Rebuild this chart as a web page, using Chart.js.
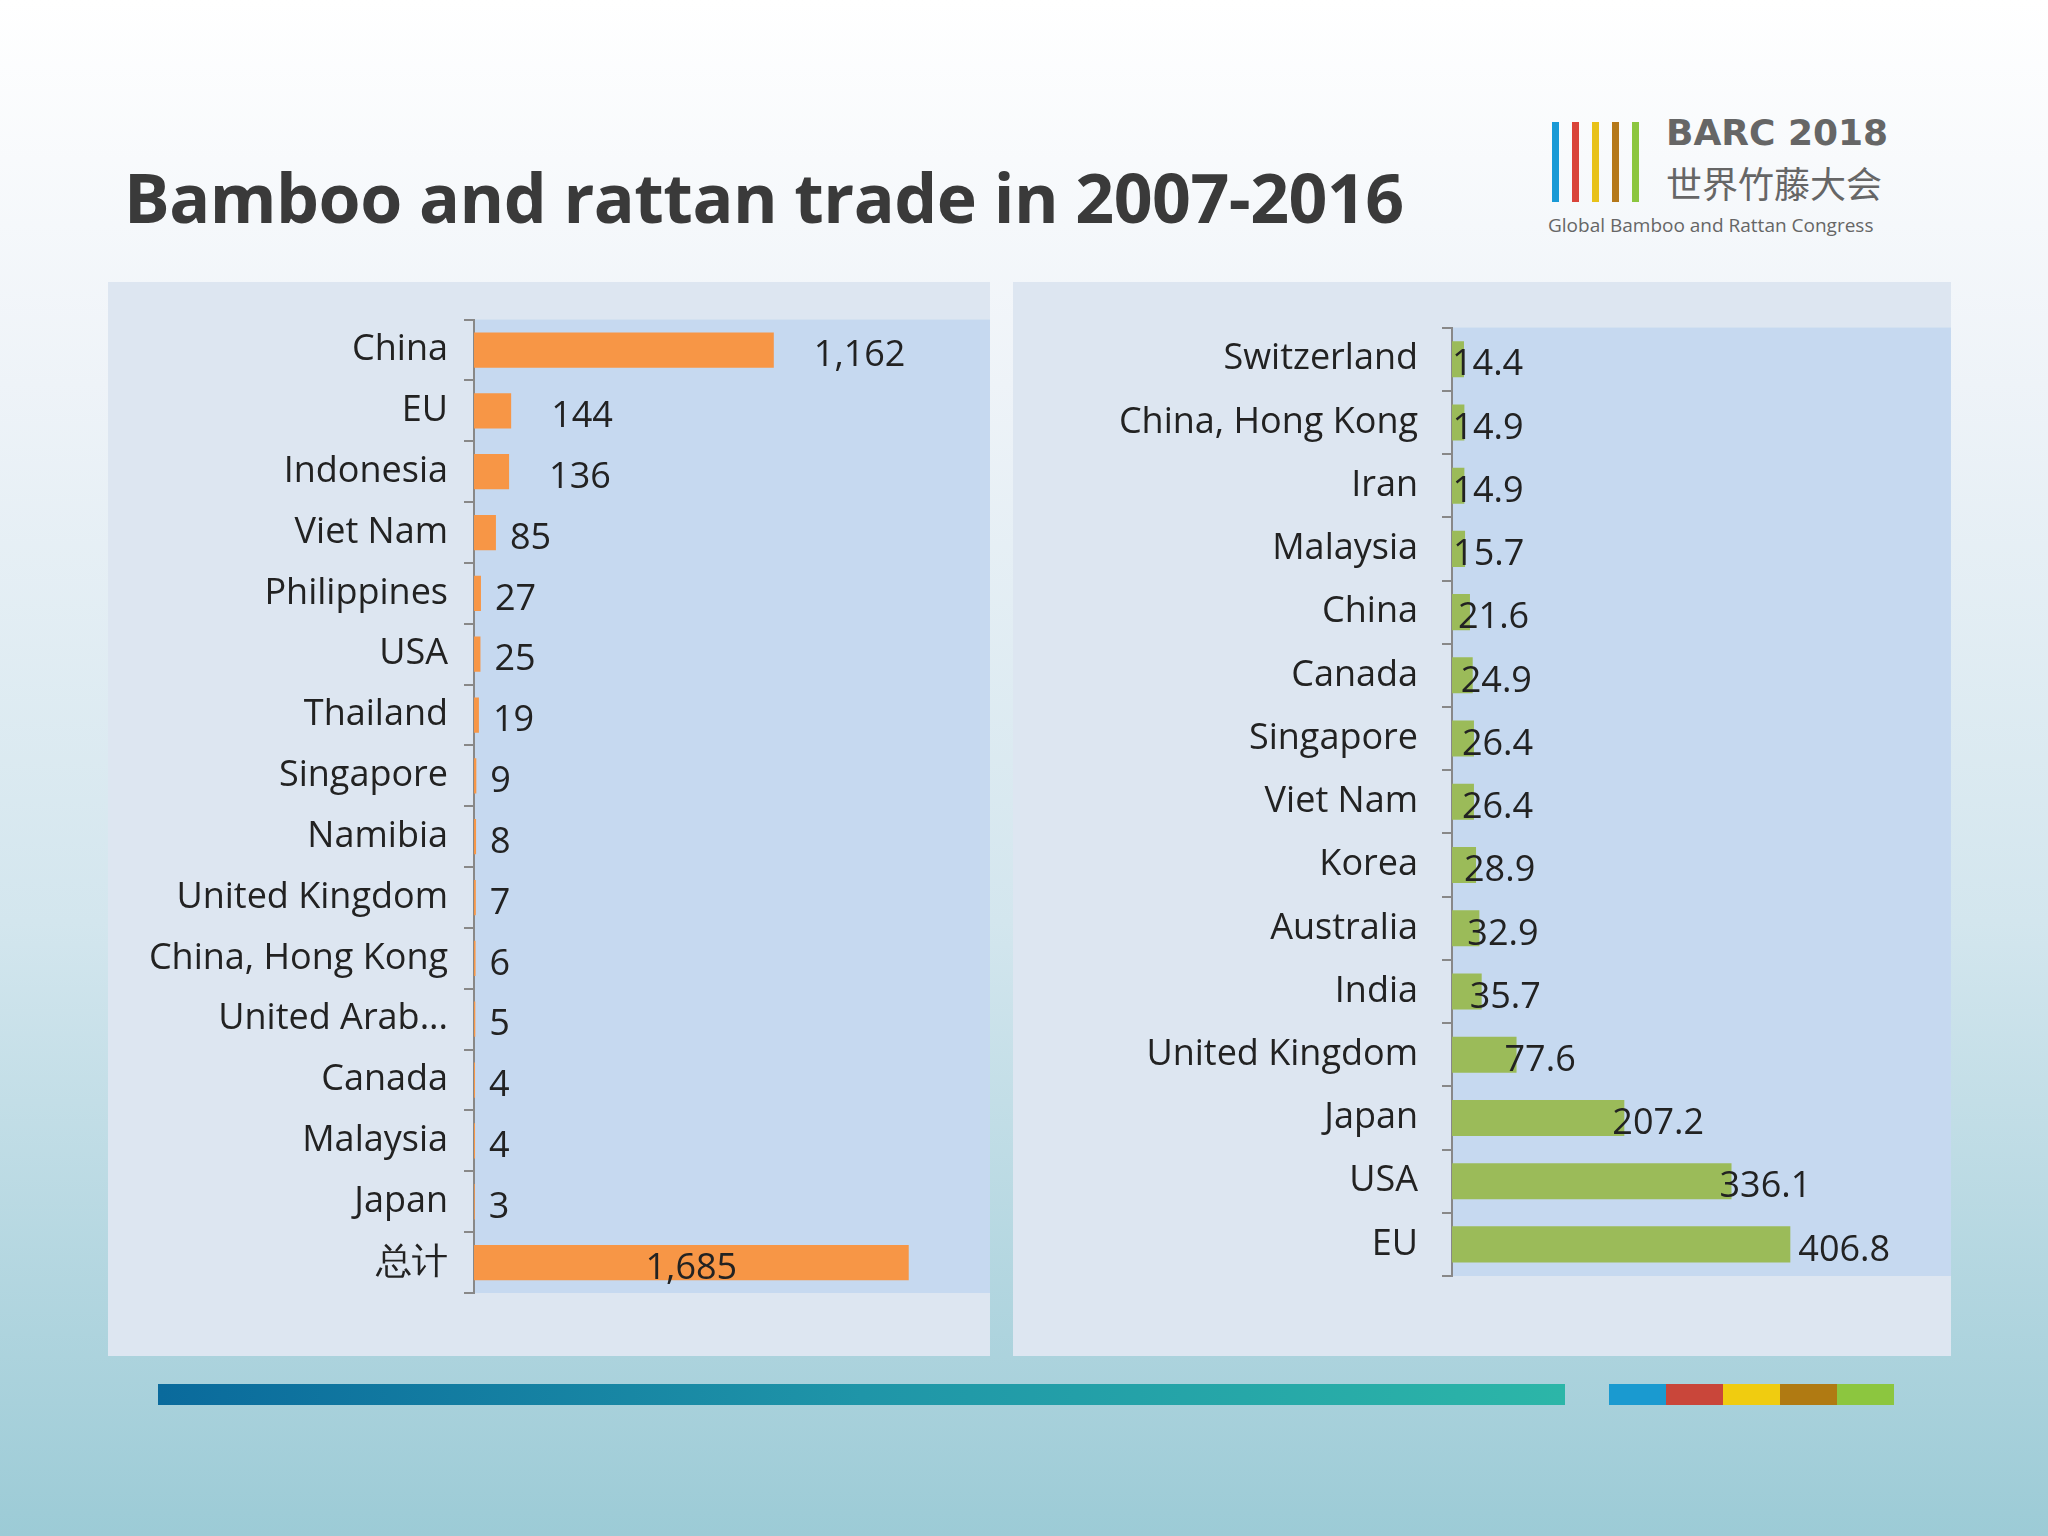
<!DOCTYPE html>
<html><head><meta charset="utf-8">
<script src="https://cdn.jsdelivr.net/npm/chart.js@4/dist/chart.umd.min.js"></script>
<style>
body{margin:0;width:2048px;height:1536px;overflow:hidden;background:linear-gradient(#ffffff 0%,#eef3f8 25%,#d3e6ee 60%,#9ccbd6 100%);font-family:"Open Sans",sans-serif;position:relative}
#title{position:absolute;left:124px;top:150px;font-size:68px;font-weight:700;color:#3a3a3a;letter-spacing:-0.5px}
.panel{position:absolute;background:#dde6f1}
#logo{position:absolute;left:1530px;top:112px;width:370px;height:130px}
.lb{position:absolute;top:10px;width:7px;height:80px}
#bar1{position:absolute;left:158px;top:1384px;width:1407px;height:21px;background:linear-gradient(90deg,#0a6a9c,#1f95a8 50%,#2cb6a8)}
.blk{position:absolute;top:1384px;width:57px;height:21px}
</style></head><body>
<div id="title">Bamboo and rattan trade in 2007-2016</div>
<div id="logo">
 <div class="lb" style="left:22px;background:#1a9ad6"></div>
 <div class="lb" style="left:42px;background:#d9443a"></div>
 <div class="lb" style="left:62px;background:#e8c21a"></div>
 <div class="lb" style="left:82px;background:#b5781a"></div>
 <div class="lb" style="left:102px;background:#8cc63f"></div>
 <div style="position:absolute;left:136px;top:0;font-size:36px;font-weight:800;color:#666;font-family:'DejaVu Sans'">BARC 2018</div>
 <div style="position:absolute;left:136px;top:44px;font-size:36px;color:#666;font-family:'Noto Sans CJK SC'">世界竹藤大会</div>
 <div style="position:absolute;left:18px;top:100px;font-size:19px;color:#666;font-family:'Open Sans'">Global Bamboo and Rattan Congress</div>
</div>
<div class="panel" style="left:108px;top:282px;width:882px;height:1074px"><canvas id="c1"></canvas></div>
<div class="panel" style="left:1013px;top:282px;width:938px;height:1074px"><canvas id="c2"></canvas></div>
<div id="bar1"></div>
<div class="blk" style="left:1609px;background:#1a9ad0"></div>
<div class="blk" style="left:1666px;background:#c9463a"></div>
<div class="blk" style="left:1723px;background:#f0cc10"></div>
<div class="blk" style="left:1780px;background:#b07a12"></div>
<div class="blk" style="left:1837px;background:#8cc63f"></div>
<script>
const leftCategories=["China","EU","Indonesia","Viet Nam","Philippines","USA","Thailand","Singapore","Namibia","United Kingdom","China, Hong Kong","United Arab...","Canada","Malaysia","Japan","总计"];
const leftValues=[1162,144,136,85,27,25,19,9,8,7,6,5,4,4,3,1685];
const leftLabels=["1,162","144","136","85","27","25","19","9","8","7","6","5","4","4","3","1,685"];
const rightCategories=["Switzerland","China, Hong Kong","Iran","Malaysia","China","Canada","Singapore","Viet Nam","Korea","Australia","India","United Kingdom","Japan","USA","EU"];
const rightValues=[14.4,14.9,14.9,15.7,21.6,24.9,26.4,26.4,28.9,32.9,35.7,77.6,207.2,336.1,406.8];

const bgPlugin={id:'bg',beforeDraw(c){const a=c.chartArea,x=c.ctx;x.save();x.fillStyle='#c6d9f0';x.fillRect(a.left,a.top,a.right-a.left,a.bottom-a.top);x.restore();}};
function lblPlugin(labels,mode){return{id:'lbl',afterDatasetsDraw(c){const x=c.ctx,m=c.getDatasetMeta(0);x.save();x.font='36px "Open Sans"';x.fillStyle='#222';x.textBaseline='middle';
m.data.forEach((b,i)=>{let tx,ty=b.y+6;
 if(mode==='L'){ if(i===labels.length-1){x.textAlign='center';tx=(b.base+b.x)/2;} else {x.textAlign='left';tx=b.x+(c.data.datasets[0].data[i]>100?40:14);} }
 else {x.textAlign='left';tx=b.x-12; if(i===labels.length-1)tx=b.x+8;}
 x.fillText(labels[i],tx,ty);});x.restore();}};}
function make(id,cats,vals,labels,color,max,yw,pt,pb,mode,bp,pad){
 new Chart(document.getElementById(id),{type:'bar',data:{labels:cats,datasets:[{data:vals,backgroundColor:color,barPercentage:bp,categoryPercentage:1}]},
 options:{indexAxis:'y',responsive:true,maintainAspectRatio:false,animation:false,layout:{padding:{top:pt,bottom:pb,right:0,left:0}},
 plugins:{legend:{display:false},tooltip:{enabled:false}},
 scales:{x:{display:false,min:0,max:max},
 y:{afterFit(s){s.width=yw;},border:{display:true,color:'#888',width:2},grid:{display:true,drawOnChartArea:false,offset:true,tickLength:10,color:'#888',lineWidth:2},
 ticks:{color:'#222',font:{size:36,family:'Open Sans'},padding:pad,autoSkip:false}}}},
 plugins:[bgPlugin,lblPlugin(labels,mode)]});}
make('c1',leftCategories,leftValues,leftLabels,'#f79646',2000,366,19,63,'L',0.58,16);
make('c2',rightCategories,rightValues,rightValues.map(v=>v.toFixed(1)),'#9bbb59',600,439,28,80,'R',0.57,24);
</script></body></html>
